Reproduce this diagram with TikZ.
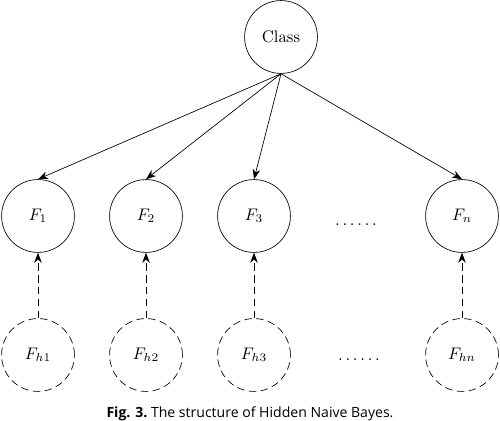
\documentclass[tikz,border=0pt]{standalone}
\usepackage{amsmath}
\usepackage{fontspec}
\newfontfamily\capfont{Open Sans}
\usetikzlibrary{arrows.meta}

\begin{document}
\begin{tikzpicture}[>={Stealth[length=6pt,width=4.5pt]},x=0.021cm,y=0.021cm,
  var/.style={draw,circle,minimum size=1.53cm,inner sep=0pt},
  hidvar/.style={var,dash pattern=on 4.5pt off 2.6pt},
  hidarrow/.style={->,dash pattern=on 4.5pt off 2.6pt}]
  \useasboundingbox (0,0) rectangle (500,420);

  % Class node on top.
  \node[var] (class) at (281,383) {Class};

  % Observed attributes.
  \node[var] (f1) at (38,204) {$F_1$};
  \node[var] (f2) at (146,204) {$F_2$};
  \node[var] (f3) at (254,204) {$F_3$};
  \node[var] (fn) at (462,204) {$F_n$};
  \node (fdots) at (356,195) {$\ldots\ldots$};

  % Hidden parents, dashed.
  \node[hidvar] (fh1) at (38,65) {$F_{h1}$};
  \node[hidvar] (fh2) at (146,65) {$F_{h2}$};
  \node[hidvar] (fh3) at (254,65) {$F_{h3}$};
  \node[hidvar] (fhn) at (462,65) {$F_{hn}$};
  \node (fhdots) at (359,60) {$\ldots\ldots$};

  % Edges.
  \foreach \f in {f1,f2,f3,fn}
    {\draw[->] (class.south) -- (\f.north);}
  \foreach \h/\f in {fh1/f1,fh2/f2,fh3/f3,fhn/fn}
    {\draw[hidarrow] (\h) -- (\f);}

  \node[anchor=base,inner sep=0pt] (caption) at (250,3)
    {\capfont\fontsize{8.4}{10}\selectfont\textbf{Fig. 3.}\ The structure of Hidden Naive Bayes.};
\end{tikzpicture}
\end{document}
